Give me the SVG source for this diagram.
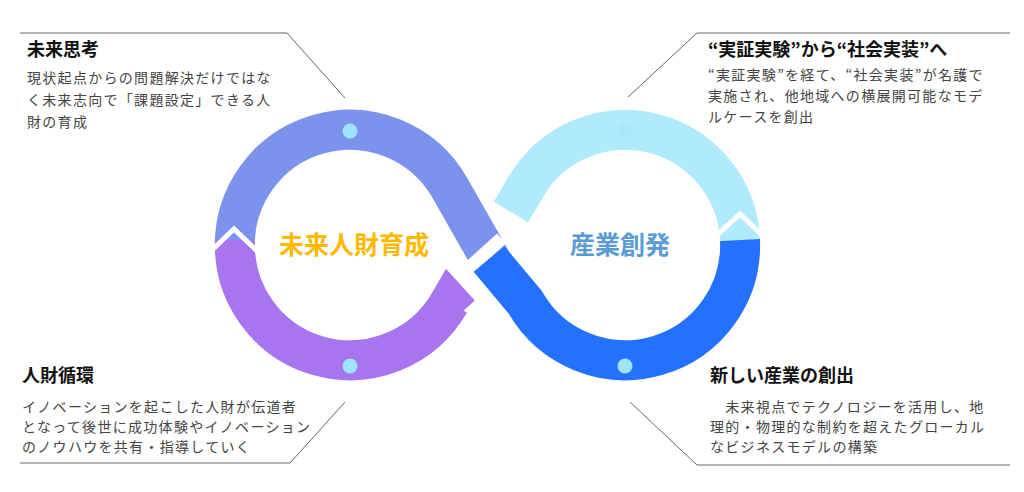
<svg xmlns="http://www.w3.org/2000/svg" width="1024" height="492" viewBox="0 0 1024 492">
<style>
.t{font-family:"Noto Sans CJK JP","Noto Sans",sans-serif;font-weight:bold;font-size:18px;fill:#111}
.b{font-family:"Noto Sans CJK JP","Noto Sans",sans-serif;font-size:14px;fill:#444;letter-spacing:1.3px}
.ln{fill:none;stroke:#666;stroke-width:1}
.band{fill:none;stroke-width:40;stroke-linecap:butt}
.dot{fill:#9EE3FA}
.c{font-family:"Noto Sans CJK JP","Noto Sans",sans-serif;font-weight:bold;font-size:25px;text-anchor:middle}
</style>
<rect width="1024" height="492" fill="#fff"/>
<g id="connectors">
<polyline class="ln" points="20,33 287,33 345,98"/>
<polyline class="ln" points="628,97 697,33 1010,33"/>
<polyline class="ln" points="345,402 290,463 20,463"/>
<polyline class="ln" points="630,402 697,465 1010,465"/>
</g>
<g id="loop">
<path class="band" stroke="#B0EBFD" d="M511,212 L525.4,187.5 A115,115 0 0 1 740,240"/>
<path fill="none" stroke="#fff" stroke-width="50" d="M449.6,187.5 L492,262"/>
<path class="band" stroke="#7B93EC" d="M235,250 A115,115 0 0 1 449.6,187.5 L492,262"/>
<path class="band" stroke="#A875F0" d="M235,240 A115,115 0 0 0 449.6,302.5 L460,314"/>
<path fill="none" stroke="#fff" stroke-width="50" d="M497,271 L525.4,302.5"/>
<path fill="none" stroke="#fff" stroke-width="46" d="M480,249 L489,259"/>
<path class="band" stroke="#2571FF" d="M489,259 L525.4,302.5 A115,115 0 0 0 740,240"/>
<polyline fill="none" stroke="#fff" stroke-width="5" points="212,250 234,229 258,252"/>
<polyline fill="none" stroke="#fff" stroke-width="5" points="716,236 740,214 765,238"/>
<circle class="dot" cx="350" cy="131" r="7.5"/>
<circle class="dot" cx="350" cy="366" r="7.5"/>
<circle class="dot" cx="625" cy="366" r="7.5"/>
<circle cx="625" cy="130" r="7.5" fill="#A8E8FC"/>
<text class="c" x="354" y="254" fill="#FFB800">未来人財育成</text>
<text class="c" x="620" y="254" fill="#5B9BD5">産業創発</text>
</g>
<g id="n1">
<text class="t" x="27" y="56">未来思考</text>
<text class="b" x="27" y="83">現状起点からの問題解決だけではな</text>
<text class="b" x="27" y="105">く未来志向で「課題設定」できる人</text>
<text class="b" x="27" y="127">財の育成</text>
</g>
<g id="n2">
<text class="t" x="708" y="56">“実証実験”から“社会実装”へ</text>
<text class="b" x="708" y="80">“実証実験”を経て、“社会実装”が名護で</text>
<text class="b" x="708" y="101">実施され、他地域への横展開可能なモデ</text>
<text class="b" x="708" y="122">ルケースを創出</text>
</g>
<g id="n3">
<text class="t" x="22" y="382">人財循環</text>
<text class="b" x="22" y="412">イノベーションを起こした人財が伝道者</text>
<text class="b" x="22" y="432">となって後世に成功体験やイノベーション</text>
<text class="b" x="22" y="452">のノウハウを共有・指導していく</text>
</g>
<g id="n4">
<text class="t" x="710" y="382">新しい産業の創出</text>
<text class="b" x="710" y="412">　未来視点でテクノロジーを活用し、地</text>
<text class="b" x="710" y="432">理的・物理的な制約を超えたグローカル</text>
<text class="b" x="710" y="452">なビジネスモデルの構築</text>
</g>
</svg>
